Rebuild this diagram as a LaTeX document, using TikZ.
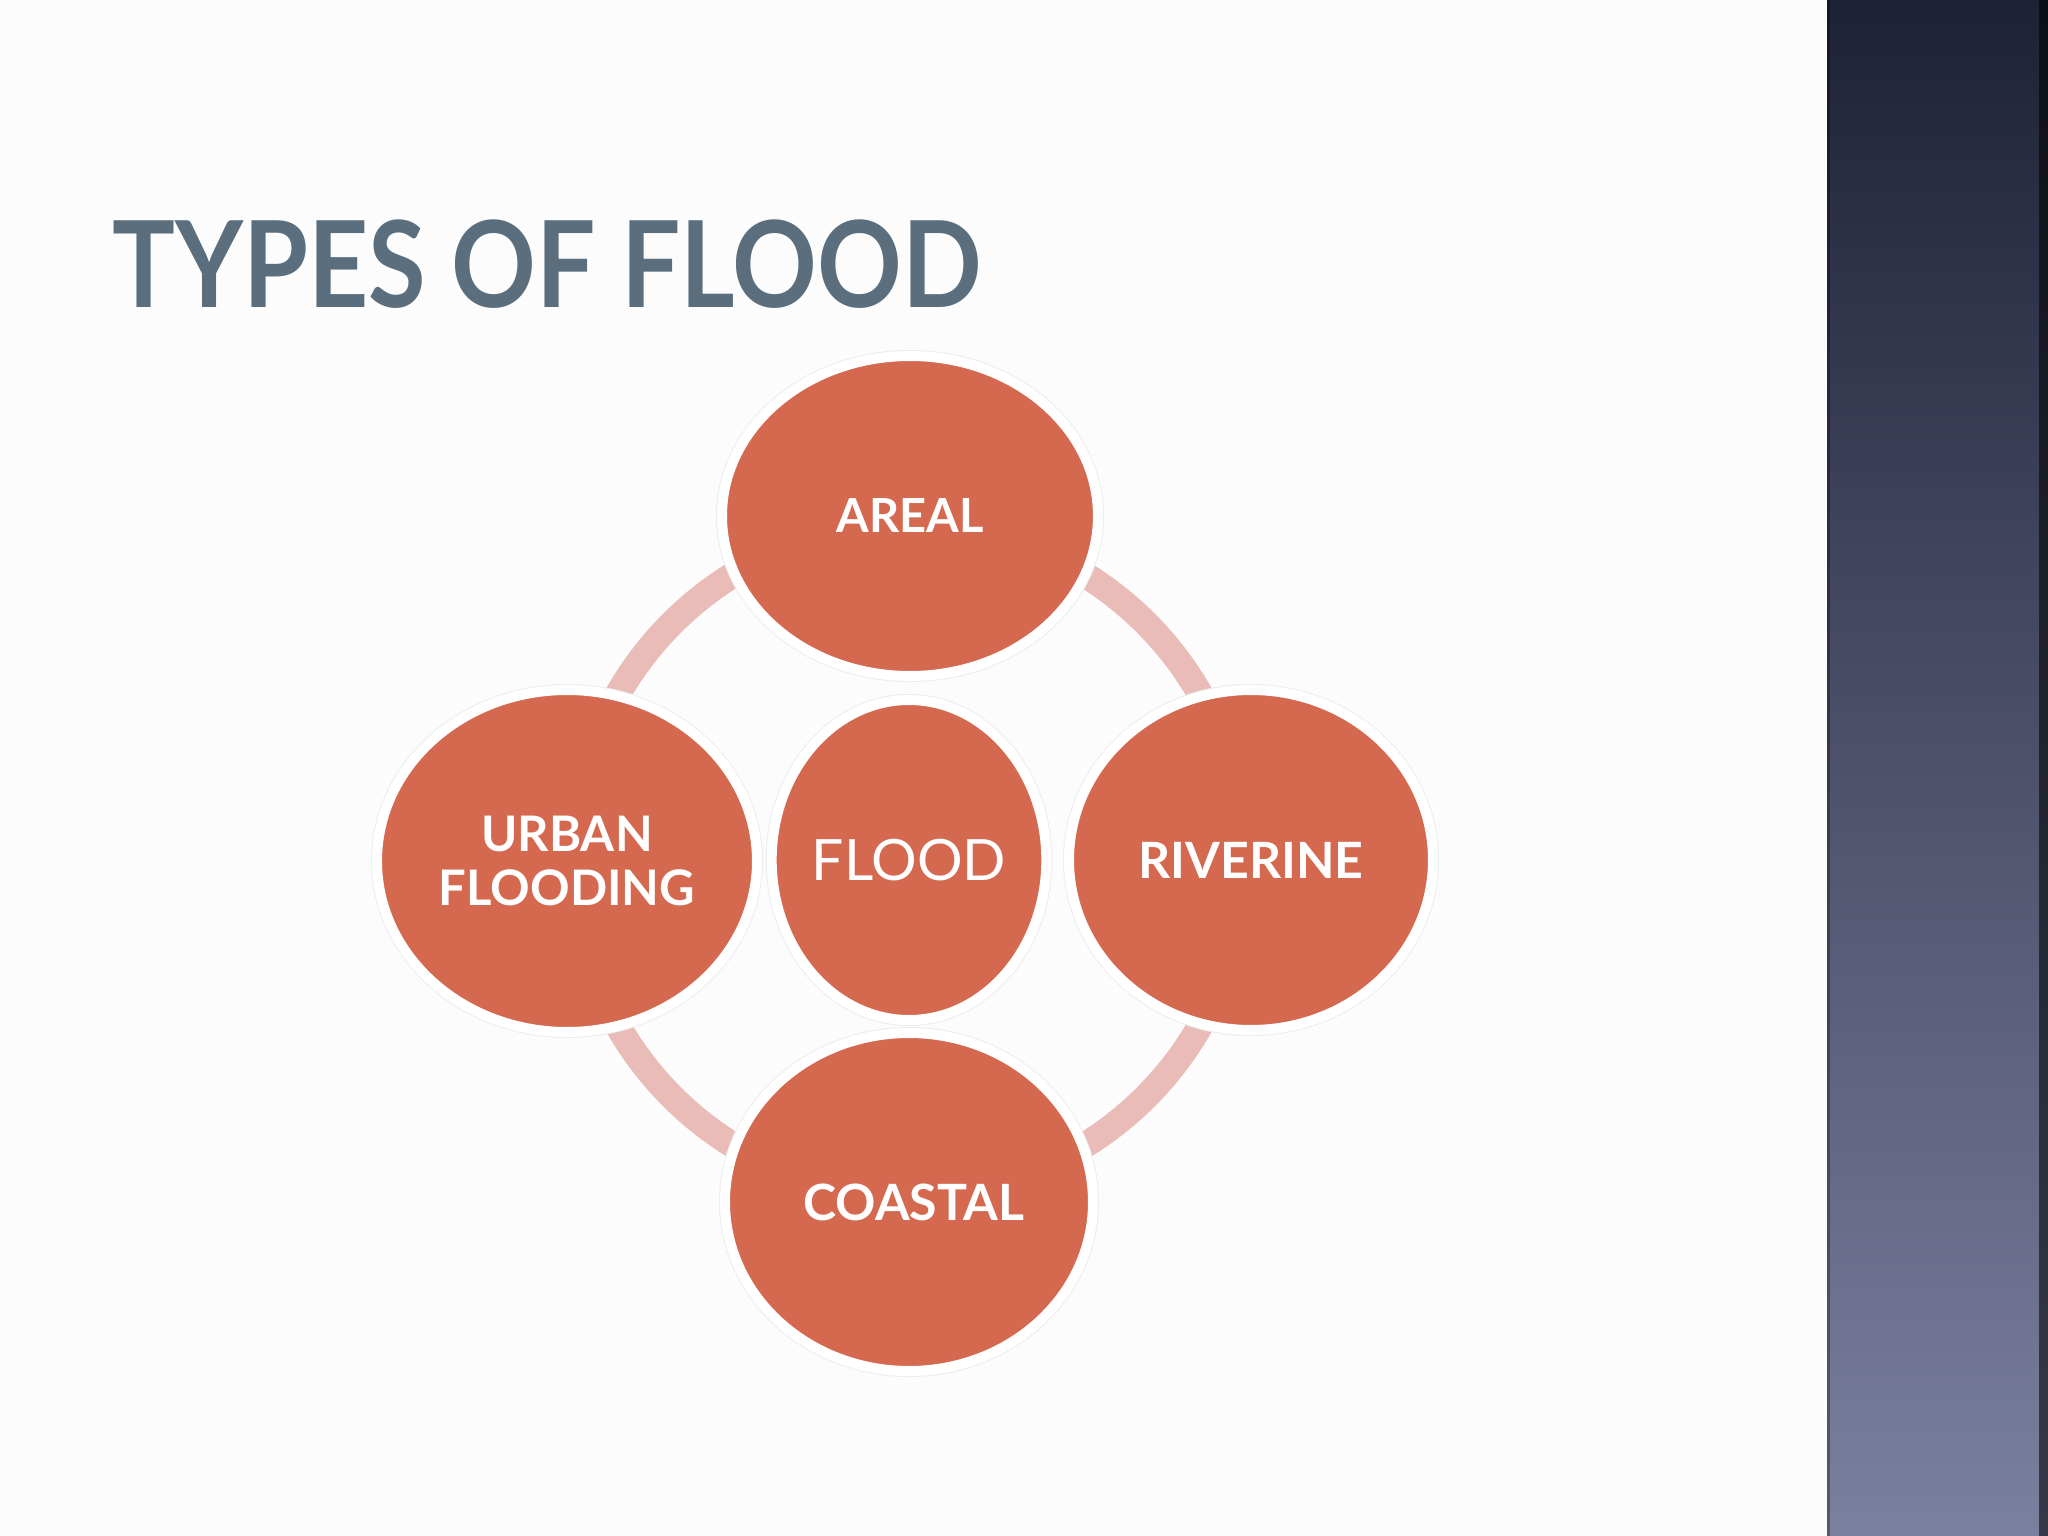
\documentclass[tikz,border=0pt]{standalone}
\usepackage{fontspec}
\setmainfont{Lato}
\usetikzlibrary{shapes.geometric}
\definecolor{coral}{HTML}{D5694F}
\definecolor{ringpink}{HTML}{E9BCB8}
\definecolor{titleslate}{HTML}{5A6E7E}
\definecolor{bartop}{HTML}{1E2236}
\definecolor{barbot}{HTML}{7C80A0}
\tikzset{
  bubble/.style={ellipse, inner sep=0pt, fill=coral, draw=white, line width=10pt,
    preaction={draw=black!7, line width=12pt},
    text=white, align=center, font=\bfseries\fontsize{50}{55}\selectfont},
  ringline/.style={draw=ringpink, line width=26pt},
}
\begin{document}
\begin{tikzpicture}[x=1pt,y=-1pt]
\useasboundingbox (0,0) rectangle (2048,1536);
\fill[white!99!black] (0,0) rectangle (2048,1536);
% right bar
\shade[top color=bartop, bottom color=barbot] (1827,0) rectangle (2048,1536);
\fill[black, opacity=0.55] (2039,0) rectangle (2048,1536);
\fill[black, opacity=0.3] (1827,0) rectangle (1830,1536);
% title
\node[anchor=base west, inner sep=0pt, text=titleslate,
      font=\bfseries\fontsize{120}{120}\selectfont] (title) at (112,307) {\scalebox{0.875}[1]{TYPES OF FLOOD}};
% ring
\coordinate (c) at (909,860);
\draw[ringline] (c) circle [radius=335];
% bubbles
\node[bubble, minimum width=376, minimum height=320, font=\bfseries\fontsize{47}{50}\selectfont] (areal) at (910,516) {AREAL};
\node[bubble, minimum width=380, minimum height=342, font=\bfseries\fontsize{49}{54}\selectfont] (urban) at (567,861) {URBAN\\FLOODING};
\node[bubble, minimum width=266, minimum height=320, font=\fontsize{57}{60}\selectfont] (flood) at (909,860) {FLOOD};
\node[bubble, minimum width=364, minimum height=340] (river) at (1251,860) {RIVERINE};
\node[bubble, minimum width=368, minimum height=338] (coast) at (909,1202) {\hspace*{10pt}COASTAL};
\end{tikzpicture}
\end{document}
